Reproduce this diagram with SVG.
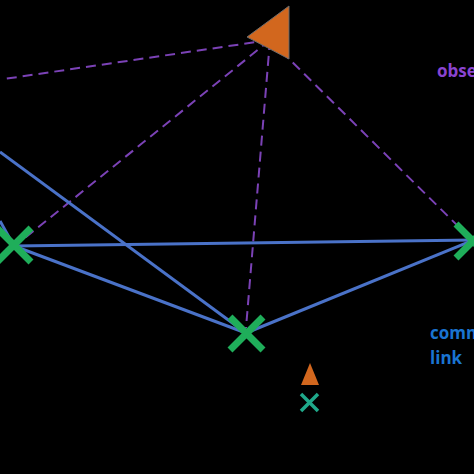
<svg xmlns="http://www.w3.org/2000/svg" width="474" height="474" viewBox="0 0 474 474">
<style>
.bg{fill:#000}
.dash{stroke:#7b42b6;stroke-width:2;stroke-dasharray:10 6;fill:none}
.link{stroke:#4a72c8;stroke-width:3;fill:none}
.x{stroke:#1fae5a;stroke-width:7;stroke-linecap:butt}
.obs{fill:#d2671e;stroke:#6b6b6b;stroke-width:1}
.t{font-family:"Open Sans","Liberation Sans",sans-serif;font-weight:bold;font-size:17px}
</style>
<rect class="bg" width="474" height="474"/>
<g id="connectors">
<line class="dash" x1="270" y1="40" x2="4" y2="79"/>
<line class="dash" x1="270" y1="40" x2="15" y2="246"/>
<line class="dash" x1="270" y1="40" x2="246" y2="328"/>
<line class="dash" x1="270" y1="40" x2="472" y2="240"/>
<line class="link" x1="14" y1="246" x2="474" y2="240"/>
<line class="link" x1="14" y1="246" x2="246" y2="333"/>
<line class="link" x1="246" y1="333" x2="474" y2="240"/>
<line class="link" x1="0" y1="152" x2="246" y2="333"/>
<line class="link" x1="0" y1="221" x2="14" y2="246"/>
</g>
<g id="observer"><polygon class="obs" points="247,37 289,6 289,59"/></g>
<g id="node-left"><path class="x" d="M-3,229 L31,263 M31,229 L-3,263" transform="translate(0,-1)"/></g>
<g id="node-bottom"><path class="x" d="M230,317 L263,350 M263,317 L230,350"/></g>
<g id="node-right"><path class="x" d="M456,224 L490,258 M490,224 L456,258"/></g>
<g id="label-observer"><text class="t" x="437" y="77" fill="#8a44d0">observer</text></g>
<g id="label-comm"><text class="t" x="430" y="339" fill="#1a74d2">comm</text><text class="t" x="430" y="364" fill="#1a74d2">link</text></g>
<g id="legend">
<polygon fill="#d2671e" points="310,363 301,385 319,385"/>
<path d="M301,394 L318,411 M318,394 L301,411" stroke="#1fa88a" stroke-width="3.5"/>
</g>
</svg>
